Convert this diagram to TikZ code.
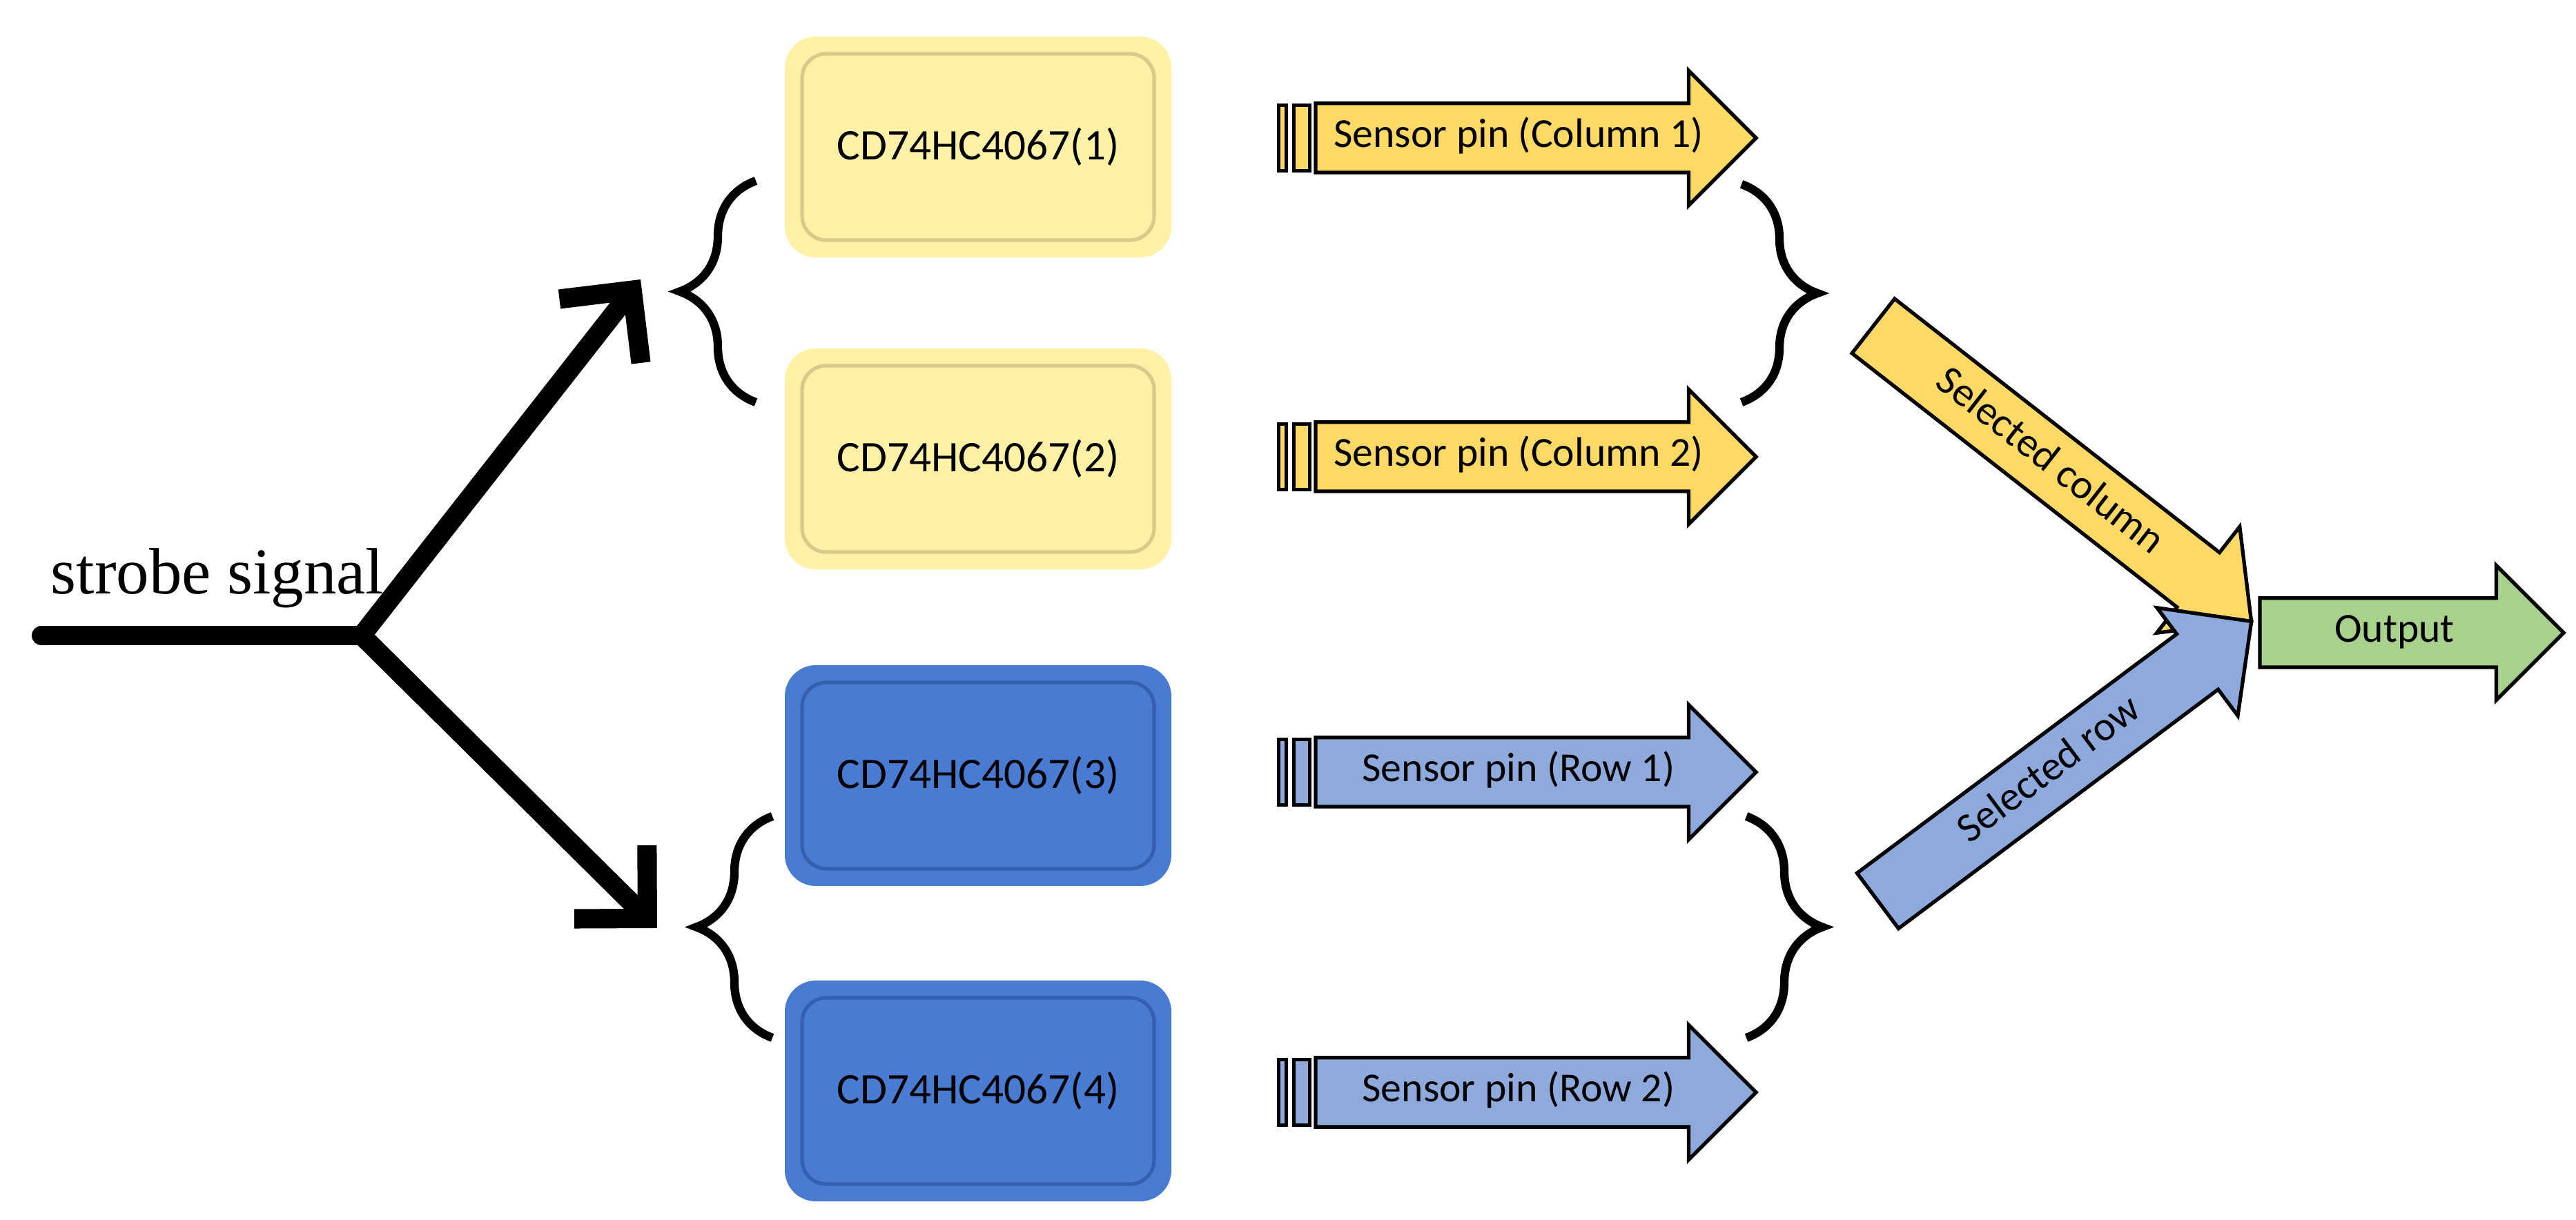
\documentclass[tikz,border=0pt]{standalone}
\usepackage{fontspec}
\setmainfont{Carlito}
\newfontfamily\serifface{Liberation Serif}
\usetikzlibrary{positioning,shapes.arrows,arrows.meta,decorations.pathreplacing}
\definecolor{chipyellow}{HTML}{FFF2A6}
\definecolor{chipyellowrim}{HTML}{D9C98A}
\definecolor{chipblue}{HTML}{4A7BD3}
\definecolor{chipbluerim}{HTML}{3560B0}
\definecolor{colgold}{HTML}{FFD966}
\definecolor{rowblue}{HTML}{8EA9DB}
\definecolor{outgreen}{HTML}{A9D18E}

\tikzset{
  chip/.style={rounded corners=0.45cm, minimum width=5.6cm, minimum height=3.2cm,
    font=\fontsize{18}{21}\selectfont, fill=#1,
    path picture={\draw[#1rim, line width=1.5pt, rounded corners=0.35cm]
      ([shift={(0.25cm,-0.25cm)}]path picture bounding box.north west) rectangle
      ([shift={(-0.25cm,0.25cm)}]path picture bounding box.south east);}},
  pin/.style={single arrow, draw=black, line width=1.5pt, fill=#1,
    single arrow head extend=0.475cm, minimum height=6.38cm,
    text height=0.38cm, text depth=0.1cm, inner ysep=0.235cm, inner xsep=0.05cm,
    font=\fontsize{17}{20}\selectfont, anchor=center},
  pinbar/.style={draw=black, line width=1.5pt, fill=#1, minimum height=0.95cm, inner sep=0pt},
  strobe/.style={line width=8pt, line cap=round, line join=round},
  group/.style={decorate, decoration={brace, amplitude=1.1cm}, line width=3.5pt}
}

\begin{document}
\begin{tikzpicture}
  \useasboundingbox (0,0) rectangle (37.32,17.68);

  % Strobe signal
  \coordinate (src) at (0.6,8.47);
  \coordinate (fork) at (5.24,8.47);
  \coordinate (uptip) at (9.28,13.63);
  \coordinate (downtip) at (9.52,4.23);
  \node[font=\serifface\fontsize{27}{30}\selectfont] (strobelabel) at (3.15,9.3) {strobe signal};
  \draw[strobe] (src) -- (fork);
  \draw[strobe, -{Straight Barb[length=0.75cm,width=1.5cm,line width=8pt]}] (fork) -- (uptip);
  \draw[strobe, -{Straight Barb[length=0.75cm,width=1.5cm,line width=8pt]}] (fork) -- (downtip);

  % Multiplexers
  \node[chip=chipyellow] (mux1) at (14.17,15.55) {CD74HC4067(1)};
  \node[chip=chipyellow] (mux2) at (14.17,11.03) {CD74HC4067(2)};
  \node[chip=chipblue] (mux3) at (14.17,6.44) {CD74HC4067(3)};
  \node[chip=chipblue] (mux4) at (14.17,1.87) {CD74HC4067(4)};

  % Braces
  \coordinate (lbt) at (10.95,15.06);
  \coordinate (lbb) at (10.95,11.85);
  \coordinate (llt) at (11.19,5.85);
  \coordinate (llb) at (11.19,2.64);
  \draw[group] (lbb) -- (lbt);
  \draw[group] (llb) -- (llt);
  \coordinate (rbt) at (25.23,15.01);
  \coordinate (rbb) at (25.23,11.85);
  \coordinate (rlt) at (25.30,5.85);
  \coordinate (rlb) at (25.30,2.64);
  \draw[group] (rbt) -- (rbb);
  \draw[group] (rlt) -- (rlb);

  % Sensor pins
  \node[pin=colgold] (col1) at (22.0,15.68) {Sensor pin (Column 1)\hspace{0.9cm}};
  \node[pin=colgold] (col2) at (22.0,11.06) {Sensor pin (Column 2)\hspace{0.9cm}};
  \node[pin=rowblue] (row1) at (22.0,6.49) {Sensor pin (Row 1)\hspace{0.9cm}};
  \node[pin=rowblue] (row2) at (22.0,1.85) {Sensor pin (Row 2)\hspace{0.9cm}};
  \foreach \p/\c in {col1/colgold, col2/colgold, row1/rowblue, row2/rowblue} {
    \node[pinbar=\c, minimum width=0.23cm, anchor=east] (\p bar) at ([xshift=-0.03cm]\p.tail) {};
    \node[pinbar=\c, minimum width=0.11cm, anchor=east] (\p tick) at ([xshift=-0.06cm]\p bar.west) {};
  }

  % Selection and output
  \node[pin=colgold, minimum height=6.95cm, rotate=-38] (selcol) at (29.68,10.97) {Selected column};
  \node[pin=rowblue, minimum height=6.76cm, rotate=36.8] (selrow) at (29.71,6.50) {Selected row};
  \node[pin=outgreen, minimum height=4.4cm] (output) at (34.69,8.51) {Output};
\end{tikzpicture}
\end{document}
